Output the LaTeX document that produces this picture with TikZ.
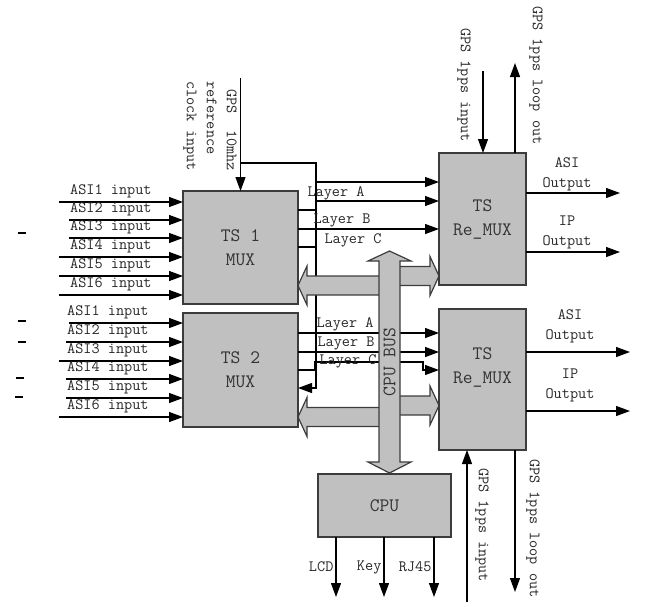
\documentclass[tikz,border=0pt]{standalone}
\usepackage{fontspec}
\usepackage{tikz}
\usetikzlibrary{arrows.meta,positioning,calc}
\definecolor{boxgray}{RGB}{192,192,192}
\definecolor{linegray}{RGB}{60,60,60}

\begin{document}
\begin{tikzpicture}[
      x=1pt, y=-1pt,
      box/.style={rectangle, draw=linegray, line width=1.4pt, fill=boxgray,
                  inner sep=0pt, outer sep=0pt, align=center, text=black!80,
                  font=\fontsize{19}{24}\selectfont\ttfamily},
      txt/.style={font=\fontsize{15.8}{20}\selectfont\ttfamily, text=black!85,
                  inner sep=1pt},
      arr/.style={-{Triangle[length=14pt,width=10pt]}, line width=1.2pt},
      ln/.style={line width=1.2pt},
      fat/.style={draw=linegray, line width=1.2pt, fill=boxgray}
    ]
      \useasboundingbox (0,0) rectangle (666,606);
      %% MUX, Re_MUX and CPU boxes
      \node[box, minimum width=115, minimum height=113] (mux1) at (240.5,247.5)
            {TS 1\\MUX};
      \node[box, minimum width=115, minimum height=114] (mux2) at (240.5,370)
            {TS 2\\MUX};
      \node[box, minimum width=87, minimum height=132] (remux1) at (482.5,219)
            {TS\\Re\_MUX};
      \node[box, minimum width=87, minimum height=141] (remux2) at (482.5,379.5)
            {};
      \node[box, draw=none, fill=none] (remux2txt) at (482.5,367.5) {TS\\Re\_MUX};
      \node[box, minimum width=133, minimum height=63] (cpu) at (384.5,505.5)
            {CPU};
      %% ASI inputs
      \foreach \n/\y/\xs in {1/202/59, 2/220/69, 3/238/69, 4/257/59, 5/276/59, 6/295/59}{
        \coordinate (ina\n) at (\xs,\y);
        \draw[arr] (ina\n) -- (ina\n -| mux1.west);
        \node[txt, anchor=south west] (lba\n) at (69,\y-3) {ASI\n\ input};
      }
      \foreach \n/\y/\xs in {1/323/69, 2/342/66, 3/361/59, 4/379/66, 5/398/66, 6/417/59}{
        \coordinate (inb\n) at (\xs,\y);
        \draw[arr] (inb\n) -- (inb\n -| mux2.west);
        \node[txt, anchor=south west] (lbb\n) at (66,\y-3) {ASI\n\ input};
      }
      \foreach \y/\xa in {233/18, 321/18, 342/18, 378/16, 397/15}
        \draw[ln] (\xa,\y) -- ++(8,0);
      %% GPS 10mhz clock
      \coordinate (clk) at (240.5,78);
      \coordinate (clkjoin) at (240.5,163);
      \coordinate (clkturn) at (316,388);
      \draw[arr] (clk) -- (mux1.north);
      \draw[arr] (clkjoin) -| (clkturn) -- (clkturn -| mux2.east);
      \node[txt, rotate=-90, anchor=west, align=left] (clktxt) at (210,80)
            {\phantom{x}GPS\ \ 10mhz\\reference\\clock input};
      %% Layers TS 1
      \draw[ln] (mux1.east|-{(0,210)}) -- ++(18,0);
      \draw[ln] (mux1.east|-{(0,247)}) -- ++(18,0);
      \draw[arr] (mux1.east|-{(0,229)}) -- (remux1.west|-{(0,229)});
      \foreach \y in {182,201}
        \draw[arr] (316,\y) -- (remux1.west|-{(0,\y)});
      \node[txt] (la1) at (336,193) {Layer A};
      \node[txt] (lb1) at (342,220) {Layer B};
      \node[txt] (lc1) at (353,240) {Layer C};
      %% Layers TS 2
      \foreach \y in {333,352}
        \draw[arr] (mux2.east|-{(0,\y)}) -- (remux2.west|-{(0,\y)});
      \draw[arr] (mux2.east|-{(0,370)}) -- (315,370) -- (315,362) -- (423,362)
            -- (423,370) -- (remux2.west|-{(0,370)});
      \node[txt] (la2) at (345,324) {Layer A};
      \node[txt] (lb2) at (346,343) {Layer B};
      \node[txt] (lc2) at (348,361) {Layer C};
      %% fat arrows and CPU bus
      \foreach \tip/\base/\c in {298/307/285.5, 439/430/276, 298/307/417, 439/430/405.5}
        \draw[fat] (\tip,\c) -- (\base,\c-19.5) -- (\base,\c-9.5) -- (389,\c-9.5)
              -- (389,\c+9.5) -- (\base,\c+9.5) -- (\base,\c+19.5) -- cycle;
      \draw[fat] (389.5,251) -- (411,261) -- (400,261) -- (400,462) -- (411,462)
            -- (389.5,473) -- (368,462) -- (379,462) -- (379,261) -- (368,261) -- cycle;
      \node[box, draw=none, fill=none, rotate=90] (bustxt) at (389.5,362) {CPU BUS};
      %% GPS 1pps
      \coordinate (ppsin1) at (483,71);
      \coordinate (ppsout1) at (515,63);
      \draw[arr] (ppsin1) -- (ppsin1 |- remux1.north);
      \draw[arr] (ppsout1 |- remux1.north) -- (ppsout1);
      \node[txt, rotate=-90, anchor=west] (ppsin1txt) at (464,27) {GPS 1pps input};
      \node[txt, rotate=-90, anchor=west] (ppsout1txt) at (536,5) {GPS 1pps loop out};
      \coordinate (ppsin2) at (467,602);
      \coordinate (ppsout2) at (515,592);
      \draw[arr] (ppsin2) -- (ppsin2 |- remux2.south);
      \draw[arr] (ppsout2 |- remux2.south) -- (ppsout2);
      \node[txt, rotate=-90, anchor=west] (ppsin2txt) at (482,467) {GPS 1pps input};
      \node[txt, rotate=-90, anchor=west] (ppsout2txt) at (533,458) {GPS 1pps loop out};
      %% outputs
      \coordinate (asio1) at (620,193);
      \coordinate (ipo1) at (620,252);
      \coordinate (asio2) at (630,352);
      \coordinate (ipo2) at (630,411);
      \foreach \o/\b in {asio1/remux1, ipo1/remux1, asio2/remux2, ipo2/remux2}
        \draw[arr] (\b.east|-\o) -- (\o);
      \node[txt, align=center, anchor=south] (asio1txt) at (567,192) {ASI\\Output};
      \node[txt, align=center, anchor=south] (ipo1txt) at (567,250) {IP\\Output};
      \node[txt, align=center, anchor=south] (asio2txt) at (570,344) {ASI\\Output};
      \node[txt, align=center, anchor=south] (ipo2txt) at (570,403) {IP\\Output};
      %% CPU outputs
      \foreach \x/\t in {336/LCD, 384/Key, 434/RJ45}{
        \coordinate (co\t) at (\x,597);
        \draw[arr] (cpu.south -| co\t) -- (co\t)
              node[txt, midway, left, inner sep=2pt] (lbl\t) {\t};
      }
    \end{tikzpicture}
\end{document}
